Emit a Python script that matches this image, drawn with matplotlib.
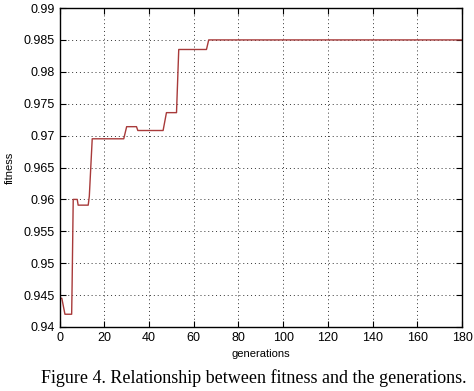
import matplotlib
matplotlib.use("Agg")
import matplotlib.pyplot as plt
import numpy as np

# breakpoints of the fitness curve (generation, fitness)
generations = [0, 1, 2.4, 5.4, 5.6, 6.1, 7.9, 8.3, 12.8, 13.3, 14.6, 28.7, 30.0, 34.4, 35.0,
               46.3, 47.8, 52.3, 53.3, 65.7, 66.7, 180]
fitness = [0.9445, 0.9445, 0.942, 0.942, 0.9465, 0.960, 0.960, 0.9591, 0.9591, 0.9605, 0.9695, 0.9695,
           0.9714, 0.9714, 0.9708, 0.9708, 0.9736, 0.9736, 0.9835, 0.9835, 0.985, 0.985]

xticks = [0, 20, 40, 60, 80, 100, 120, 140, 160, 180]
yticks = [0.94, 0.945, 0.95, 0.955, 0.96, 0.965, 0.97, 0.975, 0.98, 0.985, 0.99]
yticklabels = ["0.94", "0.945", "0.95", "0.955", "0.96", "0.965", "0.97", "0.975", "0.98", "0.985", "0.99"]

plt.rcParams['font.family'] = ['Liberation Sans', 'DejaVu Sans']

fig = plt.figure(figsize=(4.74, 3.91), dpi=100)
ax = fig.add_axes([0.1257, 0.1637, 0.849, 0.8158])
ax.plot(generations, fitness, color="#a83a3a", lw=1.0)
ax.set_xlim(0, 180)
ax.set_ylim(0.94, 0.99)
ax.set_xticks(xticks)
ax.set_xticklabels([str(v) for v in xticks])
ax.set_yticks(yticks)
ax.set_yticklabels(yticklabels)
ax.grid(True, color="#333333", linestyle=(0, (1, 3)), linewidth=0.7)
ax.tick_params(direction="in", top=True, right=True, labelsize=9, length=4, width=0.8, colors="black")
for s in ax.spines.values():
    s.set_linewidth(1.0)
ax.set_xlabel("generations", fontsize=8, labelpad=4)
ax.set_ylabel("fitness", fontsize=8, labelpad=6)

fig.text(0.535, 0.033, "Figure 4. Relationship between fitness and the generations.",
         ha="center", va="center", fontsize=13.0, family=["Liberation Serif"])

fig.savefig("out.png", dpi=100)
